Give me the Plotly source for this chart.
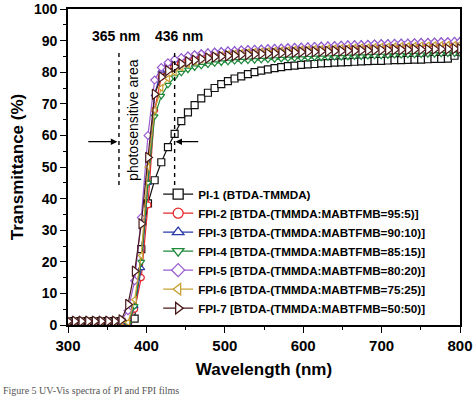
import plotly.graph_objects as go

wavelength = [300, 308.5, 317, 325.5, 334, 342.5, 351, 359.5, 368, 376.5,
              385, 393.5, 402, 410.5, 419, 427.5, 436, 444.5, 453, 461.5,
              470, 478.5, 487, 495.5, 504, 512.5, 521, 529.5, 538, 546.5,
              555, 563.5, 572, 580.5, 589, 597.5, 606, 614.5, 623, 631.5,
              640, 648.5, 657, 665.5, 674, 682.5, 691, 699.5, 708, 716.5,
              725, 733.5, 742, 750.5, 759, 767.5, 776, 784.5, 793, 800]

pi1 = [1.2, 1.2, 1.2, 1.2, 1.2, 1.2, 1.2, 1.2, 1.0, 0.3,
       2.0, 24.0, 38.5, 45.8, 51.5, 56.3, 60.5, 64.5, 67.3, 69.6,
       71.7, 73.5, 75.0, 76.2, 77.2, 78.0, 78.7, 79.4, 80.0, 80.5,
       80.9, 81.3, 81.6, 81.9, 82.1, 82.3, 82.5, 82.6, 82.8, 82.9,
       83.0, 83.1, 83.2, 83.3, 83.4, 83.5, 83.6, 83.6, 83.7, 83.8,
       83.8, 83.9, 84.0, 84.0, 84.1, 84.2, 84.2, 84.3, 85.2, 86.5]

fpi2 = [1.2, 1.2, 1.2, 1.2, 1.2, 1.2, 1.2, 1.2, 0.8, 0.2,
        5.0, 15.0, 38.0, 68.0, 78.5, 81.5, 82.8, 83.7, 84.3, 84.8,
        85.2, 85.5, 85.7, 85.9, 86.1, 86.2, 86.3, 86.5, 86.6, 86.7,
        86.8, 86.9, 87.0, 87.1, 87.2, 87.3, 87.4, 87.5, 87.5, 87.6,
        87.7, 87.8, 87.8, 87.9, 88.0, 88.0, 88.1, 88.2, 88.2, 88.3,
        88.4, 88.4, 88.5, 88.6, 88.6, 88.7, 88.8, 88.8, 88.9, 89.0]

fpi3 = [1.3, 1.3, 1.3, 1.3, 1.3, 1.3, 1.3, 1.3, 1.0, 0.3,
        6.0, 18.0, 45.0, 73.0, 80.5, 82.8, 84.0, 84.8, 85.4, 85.8,
        86.1, 86.4, 86.6, 86.8, 87.0, 87.1, 87.3, 87.4, 87.5, 87.6,
        87.7, 87.8, 87.9, 88.0, 88.1, 88.2, 88.3, 88.4, 88.5, 88.6,
        88.7, 88.8, 88.9, 89.0, 89.0, 89.1, 89.2, 89.3, 89.3, 89.4,
        89.5, 89.5, 89.6, 89.7, 89.7, 89.8, 89.9, 89.9, 90.0, 90.0]

fpi4 = [1.2, 1.2, 1.2, 1.2, 1.2, 1.2, 1.2, 1.2, 1.0, 0.5,
        6.0, 20.0, 45.0, 66.0, 72.5, 76.0, 78.4, 79.8, 80.8, 81.5,
        82.0, 82.4, 82.8, 83.1, 83.3, 83.5, 83.6, 83.7, 83.8, 83.9,
        84.0, 84.1, 84.2, 84.3, 84.4, 84.4, 84.5, 84.6, 84.6, 84.7,
        84.8, 84.8, 84.9, 85.0, 85.0, 85.1, 85.2, 85.2, 85.3, 85.4,
        85.4, 85.5, 85.5, 85.6, 85.7, 85.7, 85.8, 85.9, 85.9, 86.0]

fpi5 = [1.2, 1.2, 1.2, 1.2, 1.2, 1.2, 1.2, 1.2, 1.5, 4.5,
        14.0, 34.0, 60.0, 77.5, 81.5, 83.0, 84.0, 84.6, 85.1, 85.5,
        85.8, 86.1, 86.3, 86.5, 86.7, 86.8, 87.0, 87.1, 87.2, 87.3,
        87.4, 87.5, 87.6, 87.7, 87.8, 87.9, 88.0, 88.1, 88.2, 88.3,
        88.4, 88.5, 88.6, 88.7, 88.7, 88.8, 88.9, 89.0, 89.0, 89.1,
        89.2, 89.2, 89.3, 89.4, 89.4, 89.5, 89.6, 89.6, 89.7, 89.7]

fpi6 = [1.2, 1.2, 1.2, 1.2, 1.2, 1.2, 1.2, 1.2, 1.0, 0.8,
        8.0, 22.0, 50.0, 68.0, 75.0, 78.0, 80.0, 81.5, 82.5, 83.3,
        84.0, 84.6, 85.0, 85.4, 85.7, 85.9, 86.1, 86.3, 86.5, 86.6,
        86.7, 86.8, 86.9, 87.0, 87.1, 87.2, 87.3, 87.4, 87.4, 87.5,
        87.6, 87.7, 87.7, 87.8, 87.9, 87.9, 88.0, 88.1, 88.1, 88.2,
        88.3, 88.3, 88.4, 88.5, 88.5, 88.6, 88.6, 88.7, 88.7, 88.8]

fpi7 = [1.2, 1.2, 1.2, 1.2, 1.2, 1.2, 1.2, 1.2, 1.6, 6.5,
        17.0, 32.0, 53.0, 73.0, 78.5, 80.5, 81.7, 82.6, 83.3, 83.8,
        84.2, 84.5, 84.8, 85.0, 85.2, 85.3, 85.5, 85.6, 85.7, 85.8,
        85.9, 86.0, 86.1, 86.2, 86.3, 86.4, 86.5, 86.5, 86.6, 86.6,
        86.7, 86.7, 86.8, 86.8, 86.9, 86.9, 87.0, 87.0, 87.0, 87.1,
        87.1, 87.1, 87.2, 87.2, 87.2, 87.3, 87.3, 87.3, 87.4, 87.4]

series_names = ["PI-1 (BTDA-TMMDA)",
                "FPI-2 [BTDA-(TMMDA:MABTFMB=95:5)]",
                "FPI-3 [BTDA-(TMMDA:MABTFMB=90:10)]",
                "FPI-4 [BTDA-(TMMDA:MABTFMB=85:15)]",
                "FPI-5 [BTDA-(TMMDA:MABTFMB=80:20)]",
                "FPI-6 [BTDA-(TMMDA:MABTFMB=75:25)]",
                "FPI-7 [BTDA-(TMMDA:MABTFMB=50:50)]"]
series_values = [pi1, fpi2, fpi3, fpi4, fpi5, fpi6, fpi7]
colors = ["#111111", "#e8262a", "#2a3aa8", "#1f8a3c", "#9a5cd0", "#c9a236", "#4a1a1a"]
symbols = ["square", "circle", "triangle-up", "triangle-down", "diamond",
           "triangle-left", "triangle-right"]
marker_sizes = [7, 6, 6, 6, 6, 6, 9]

x_ticks = [300, 400, 500, 600, 700, 800]
y_ticks = [0, 10, 20, 30, 40, 50, 60, 70, 80, 90, 100]

line_365 = 365
line_436 = 436
dash_y = [44.3, 87.0]
arrow_y = 58.0
caption = "Figure 5 UV-Vis spectra of PI and FPI films"

FONT = "Liberation Sans, Arial, sans-serif"

fig = go.Figure()
for name, vals, c, s, ms in zip(series_names, series_values, colors, symbols, marker_sizes):
    fig.add_trace(go.Scatter(
        x=wavelength, y=vals, mode="lines+markers", showlegend=False,
        line=dict(color=c, width=1.2),
        marker=dict(symbol=s, size=ms, color="white", line=dict(color=c, width=1.2)),
    ))
for name, c, s in zip(series_names, colors, symbols):
    fig.add_trace(go.Scatter(
        x=[None], y=[None], mode="lines+markers", name=name,
        line=dict(color=c, width=1.3),
        marker=dict(symbol=s, size=10, color="white", line=dict(color=c, width=1.3)),
    ))

for xv in (line_365, line_436):
    fig.add_shape(type="line", x0=xv, x1=xv, y0=dash_y[0], y1=dash_y[1],
                  line=dict(color="black", width=1.4, dash="4px,4px"))

fig.add_annotation(x=361, y=91.5, text="<b>365 nm</b>", showarrow=False,
                   xanchor="center", font=dict(size=14, color="black", family=FONT))
fig.add_annotation(x=441.5, y=91.5, text="<b>436 nm</b>", showarrow=False,
                   xanchor="center", font=dict(size=14, color="black", family=FONT))
fig.add_annotation(x=382, y=65, text="photosensitive area", showarrow=False, textangle=-90,
                   font=dict(size=14, color="black", family=FONT))
fig.add_annotation(x=363, y=arrow_y, ax=324, ay=arrow_y, axref="x", ayref="y",
                   xref="x", yref="y", text="", showarrow=True, arrowhead=2,
                   arrowsize=1.1, arrowwidth=1.2, arrowcolor="black")
fig.add_annotation(x=437, y=arrow_y, ax=468, ay=arrow_y, axref="x", ayref="y",
                   xref="x", yref="y", text="", showarrow=True, arrowhead=2,
                   arrowsize=1.1, arrowwidth=1.2, arrowcolor="black")
fig.add_annotation(xref="paper", yref="paper", x=-0.17, y=-0.232, xanchor="left", yanchor="bottom",
                   text=caption, showarrow=False,
                   font=dict(size=10, color="#555555", family="Liberation Serif, serif"))

axis_common = dict(showline=True, linecolor="black", linewidth=1.6, mirror=True,
                   ticks="outside", ticklen=6, tickwidth=1.4, tickcolor="black",
                   showgrid=False, zeroline=False, automargin=False)
fig.update_xaxes(range=[300, 800], tickvals=x_ticks,
                 tickfont=dict(size=15, family=FONT, color="black", weight="bold"),
                 title=dict(text="<b>Wavelength (nm)</b>", font=dict(size=17, family=FONT, color="black"),
                            standoff=10),
                 minor=dict(dtick=50, ticklen=3, tickwidth=1.2, ticks="outside", tickcolor="black"),
                 **axis_common)
fig.update_yaxes(range=[0, 100], tickvals=y_ticks,
                 tickfont=dict(size=14, family=FONT, color="black", weight="bold"),
                 title=dict(text="<b>Transmittance (%)</b>", font=dict(size=17, family=FONT, color="black"),
                            standoff=6),
                 minor=dict(dtick=5, ticklen=3, tickwidth=1.2, ticks="outside", tickcolor="black"),
                 **axis_common)

fig.update_layout(
    width=474, height=399,
    margin=dict(l=68, r=14, t=9, b=74),
    paper_bgcolor="white", plot_bgcolor="white",
    font=dict(family=FONT, color="black"),
    legend=dict(x=0.23, y=0.46, xanchor="left", yanchor="top",
                bgcolor="rgba(0,0,0,0)", borderwidth=0,
                font=dict(size=11.7, family=FONT, color="black", weight="bold"),
                tracegroupgap=0),
)

fig.write_html("out.html", config={"displayModeBar": False},
               post_script="document.body.style.margin='0';document.body.style.overflow='hidden';")
